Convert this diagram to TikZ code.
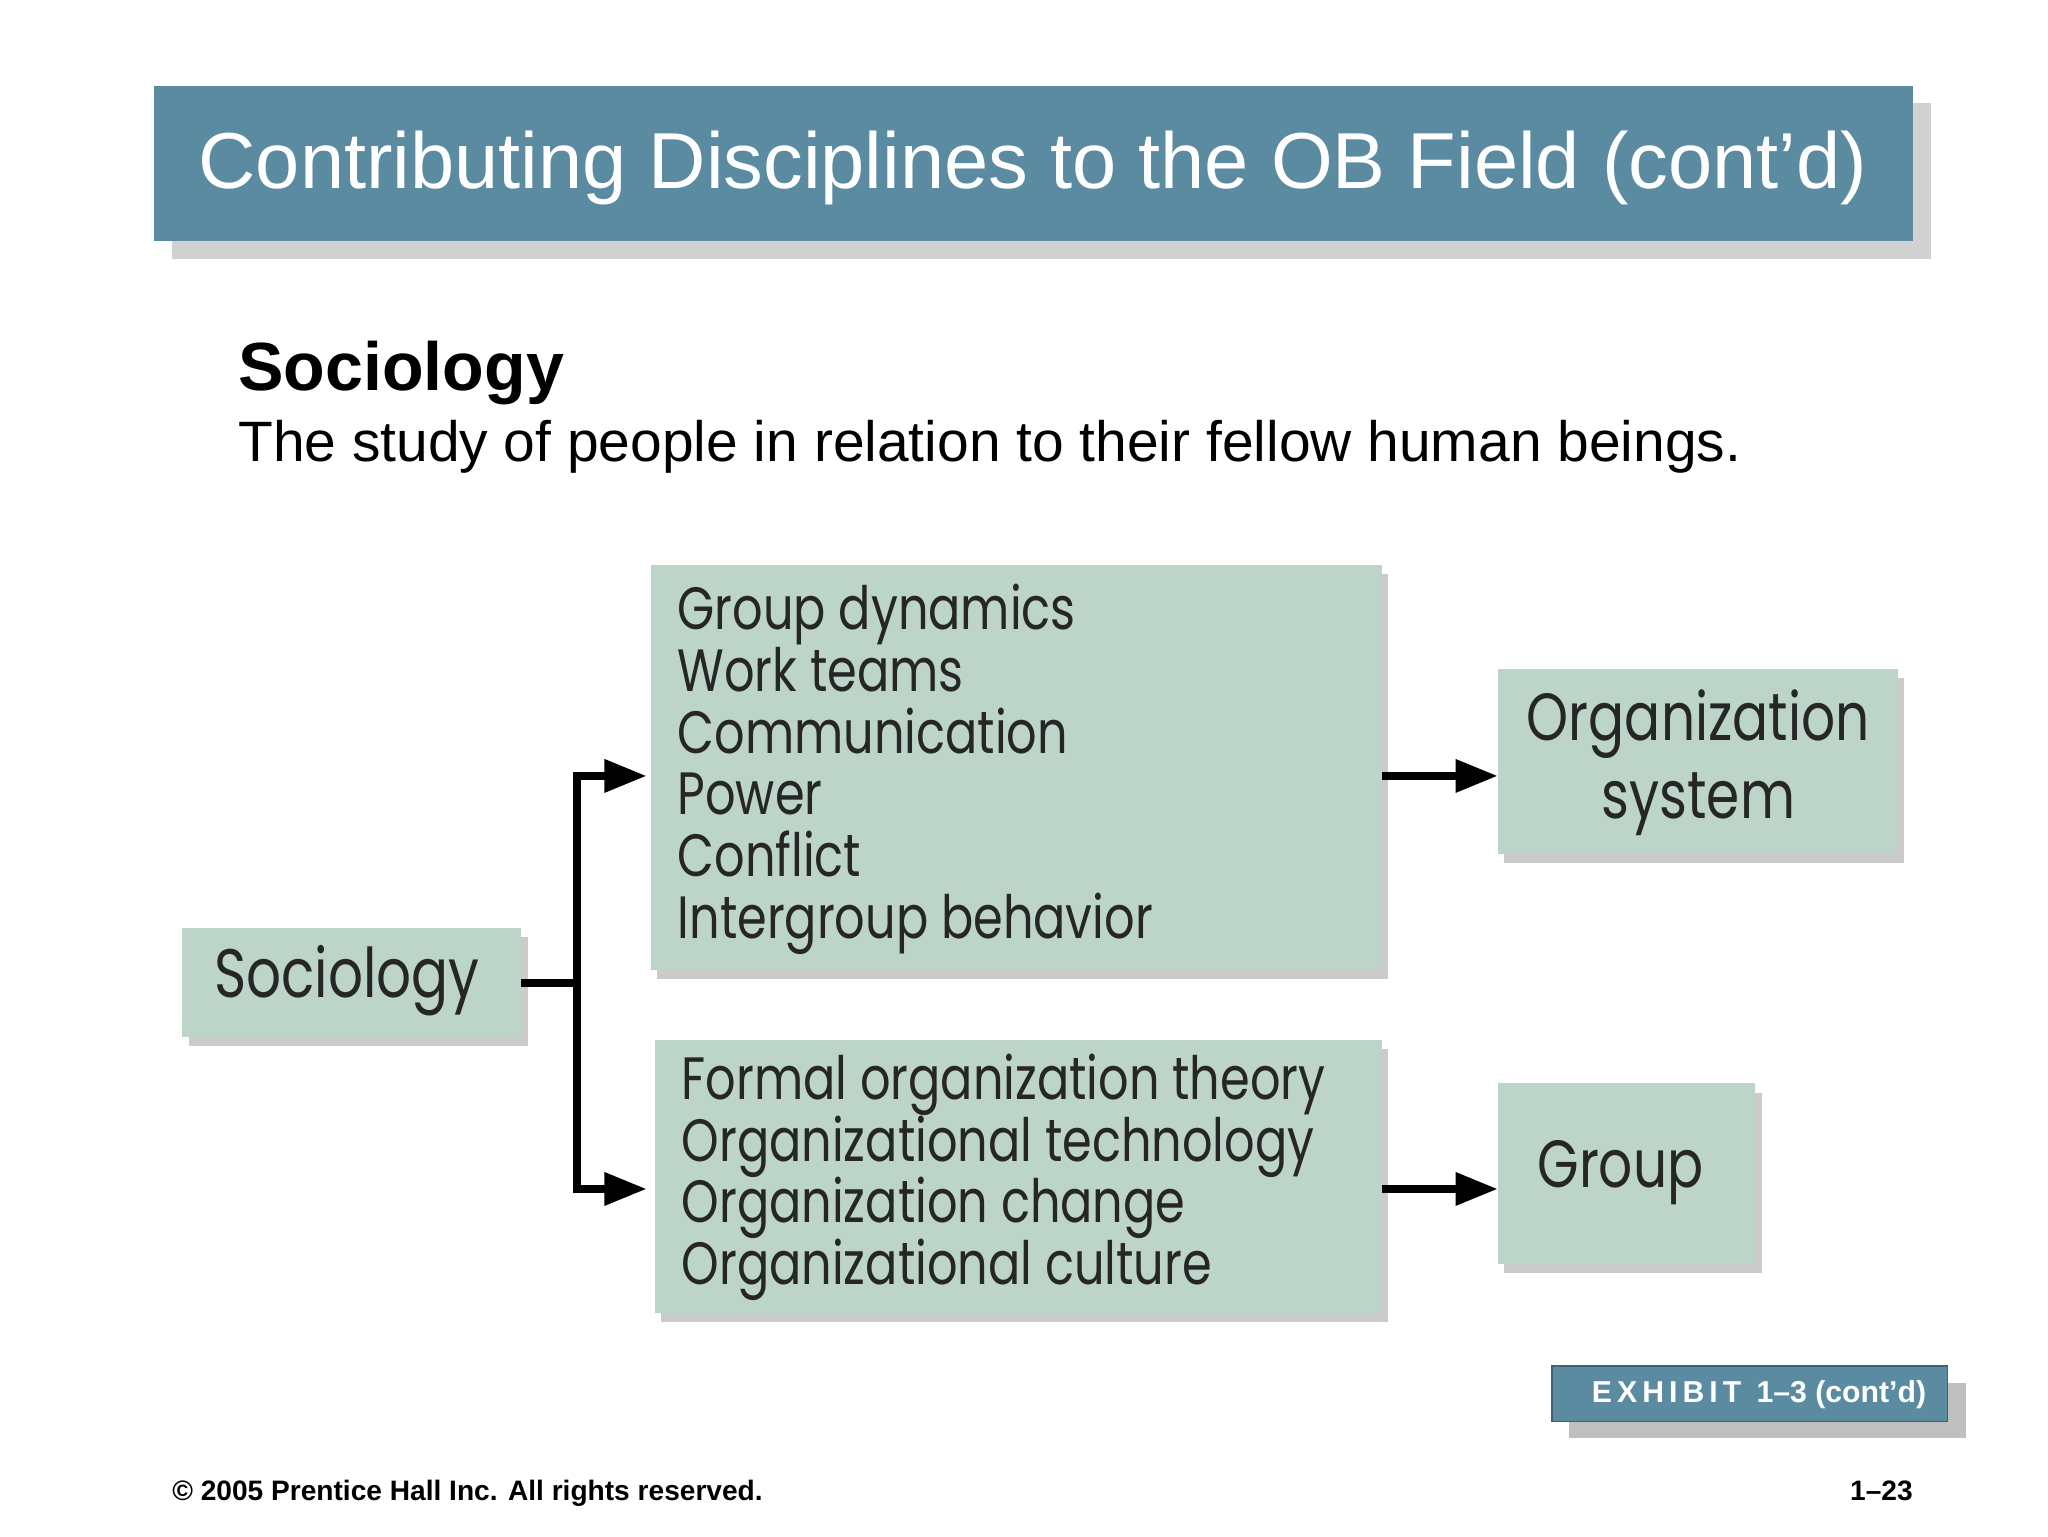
\documentclass[tikz,border=0pt]{standalone}
\usepackage{fontspec}
\setmainfont{Liberation Sans}
\newfontfamily\boxfont[FakeStretch=0.8]{Poppins}
\usetikzlibrary{arrows.meta}
\definecolor{titleblue}{HTML}{5A8BA0}
\definecolor{boxgreen}{HTML}{BDD4C9}
\tikzset{
 gbox/.style={fill=boxgreen,draw=none},
 shad/.style={fill=black!45,opacity=0.45,draw=none},
 conn/.style={line width=2.2pt,-{Triangle[length=12pt,width=9pt]}},
 btxt/.style={font=\boxfont\fontsize{17}{17.6}\selectfont,text=black!85,align=left,inner sep=0pt}
}
\begin{document}
\begin{tikzpicture}[x=0.0132cm,y=-0.0132cm]
\useasboundingbox[fill=white] (0,0) rectangle (1552,1164);
% title
\fill[black!18] (130,78) rectangle (1463,196);
\fill[titleblue] (117,65) rectangle (1450,183);
\node[anchor=west,text=white,font=\fontsize{22.6}{26}\selectfont,inner sep=0pt] (title) at (150,127) {Contributing Disciplines to the OB Field (cont’d)};
\node[anchor=base west,font=\bfseries\fontsize{19.4}{22}\selectfont,inner sep=0pt] (head) at (180,296) {Sociology};
\node[anchor=base west,font=\fontsize{16.2}{19}\selectfont,inner sep=0pt] (sub) at (180,350) {The study of people in relation to their fellow human beings.};
% shadows
\fill[shad] (143,710) rectangle (400,793);
\fill[shad] (498,435) rectangle (1052,742);
\fill[shad] (501,795) rectangle (1052,1002);
\fill[shad] (1140,514) rectangle (1443,654);
\fill[shad] (1140,828) rectangle (1335,965);
% boxes
\fill[gbox] (138,703) rectangle (395,786);
\node[btxt,font=\boxfont\fontsize{19.5}{20}\selectfont] (soc) at (263,743) {Sociology};
\coordinate (socE) at (395,745);
\fill[gbox] (493,428) rectangle (1047,735);
\node[btxt,anchor=north west] (top) at (513,442) {Group dynamics\\Work teams\\Communication\\Power\\Conflict\\Intergroup behavior};
\fill[gbox] (496,788) rectangle (1047,995);
\node[btxt,anchor=north west] (bot) at (516,798) {Formal organization theory\\Organizational technology\\Organization change\\Organizational culture};
\fill[gbox] (1135,507) rectangle (1438,647);
\node[btxt,align=center,font=\boxfont\fontsize{19}{22}\selectfont] (org) at (1287,578) {Organization\\system};
\fill[gbox] (1135,821) rectangle (1330,958);
\node[btxt,font=\boxfont\fontsize{19}{22}\selectfont] (grp) at (1228,889) {Group};
% connectors
\coordinate (j) at (437,745);
\coordinate (jt) at (437,588);
\coordinate (jb) at (437,901);
\coordinate (topW) at (490,588);
\coordinate (botW) at (490,901);
\coordinate (topE) at (1047,588);
\coordinate (botE) at (1047,901);
\coordinate (orgW) at (1135,588);
\coordinate (grpW) at (1135,901);
\draw[line width=2.2pt] (socE) -- (j);
\draw[line width=2.2pt] (jt) -- (jb);
\draw[conn] ([xshift=-1pt]jt) -- (topW);
\draw[conn] ([xshift=-1pt]jb) -- (botW);
\draw[conn] (topE) -- (orgW);
\draw[conn] (botE) -- (grpW);
% exhibit
\fill[black!25] (1189,1048) rectangle (1490,1090);
\fill[titleblue,draw=titleblue!70!black] (1176,1035) rectangle (1476,1077);
\node[text=white,font=\bfseries\fontsize{8.6}{10}\selectfont,inner sep=0pt] (ex) at (1333,1057) {E\,X\,H\,I\,B\,I\,T\enspace 1–3 (cont’d)};
% footer
\node[anchor=base west,font=\bfseries\fontsize{8}{10}\selectfont,inner sep=0pt] (copy) at (130,1137) {© 2005 Prentice Hall Inc. All rights reserved.};
\node[anchor=base east,font=\bfseries\fontsize{8}{10}\selectfont,inner sep=0pt] (pg) at (1450,1137) {1–23};
\end{tikzpicture}
\end{document}
